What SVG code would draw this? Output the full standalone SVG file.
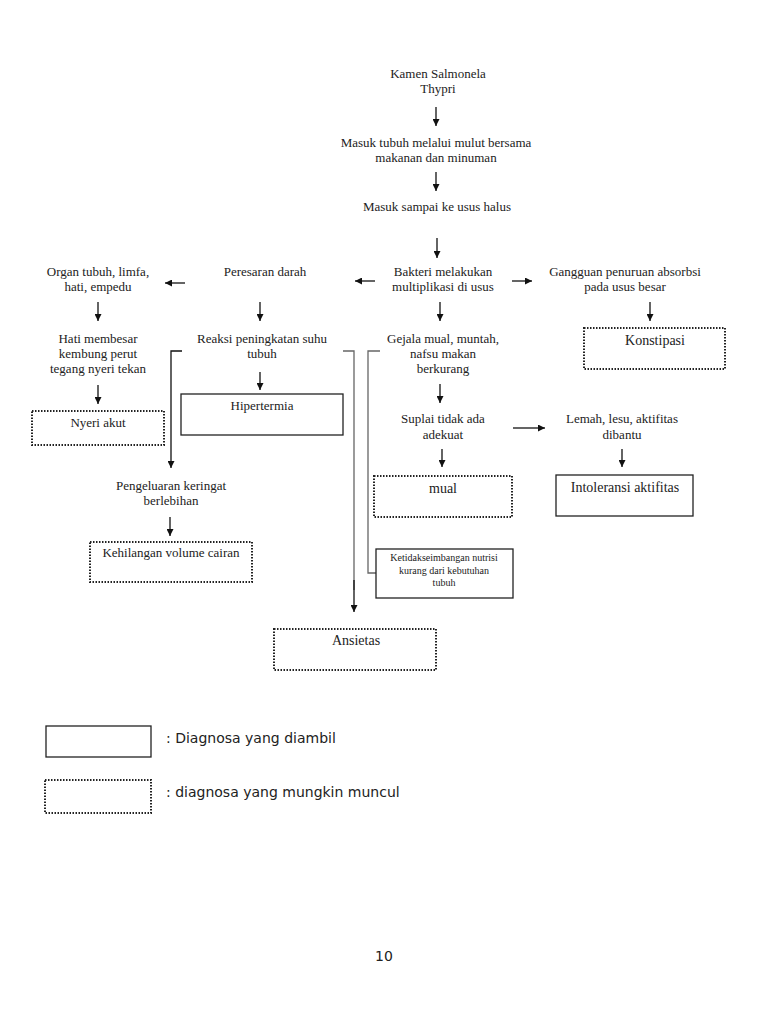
<svg xmlns="http://www.w3.org/2000/svg" width="768" height="1024" viewBox="0 0 768 1024">
<style>
.t{font-family:"Liberation Serif","Times New Roman",serif;font-size:13px;fill:#222;text-anchor:middle}
.tl{font-family:"Liberation Serif","Times New Roman",serif;font-size:14px;fill:#222;text-anchor:middle}
.ts{font-family:"Liberation Serif","Times New Roman",serif;font-size:10px;fill:#222;text-anchor:middle}
.lg{font-family:"DejaVu Sans",sans-serif;font-size:14px;fill:#222}
.solid{fill:#fff;stroke:#222;stroke-width:1.3}
.dot{fill:#fff;stroke:#222;stroke-width:2;stroke-dasharray:1.5 1.5}
.a{stroke:#111;stroke-width:1.3;fill:none;marker-end:url(#ah)}
.br{stroke:#666;stroke-width:1.3;fill:none}
</style>
<defs>
<marker id="ah" viewBox="0 0 10 10" refX="10" refY="5" markerWidth="7" markerHeight="7" markerUnits="userSpaceOnUse" orient="auto">
<path d="M0,0 L10,5 L0,10 z" fill="#111"/>
</marker>
</defs>
<rect width="768" height="1024" fill="#fff"/>

<g id="connectors">
<path class="a" d="M436,107 V126"/>
<path class="a" d="M436,172 V191"/>
<path class="a" d="M437,238 V258"/>
<path class="a" d="M185,283 H165"/>
<path class="a" d="M375,281 H355"/>
<path class="a" d="M512,281 H532"/>
<path class="a" d="M98,302 V321"/>
<path class="a" d="M260,302 V321"/>
<path class="a" d="M440,302 V321"/>
<path class="a" d="M650,302 V321"/>
<path class="a" d="M98,385 V404"/>
<path class="a" d="M260,372 V390"/>
<path class="a" d="M440,384 V403"/>
<path class="a" d="M513,428 H545"/>
<path class="a" d="M442,449 V467"/>
<path class="a" d="M622,449 V467"/>
<path class="a" d="M182,351 H171 V468"/>
<path class="a" d="M170,517 V536"/>
<path class="br" d="M343,351 H354 V590"/>
<path class="a" d="M354,580 V612"/>
<path class="br" d="M380,351 H368 V573 H376"/>
</g>

<g id="n1"><text class="t" x="438" y="78">Kamen Salmonela</text><text class="t" x="438" y="93">Thypri</text></g>
<g id="n2"><text class="t" x="436" y="147">Masuk tubuh melalui mulut bersama</text><text class="t" x="436" y="162">makanan dan minuman</text></g>
<g id="n3"><text class="t" x="437" y="211">Masuk sampai ke usus halus</text></g>
<g id="n4"><text class="t" x="98" y="276">Organ tubuh, limfa,</text><text class="t" x="98" y="291">hati, empedu</text></g>
<g id="n5"><text class="t" x="265" y="276">Peresaran darah</text></g>
<g id="n6"><text class="t" x="443" y="276">Bakteri melakukan</text><text class="t" x="443" y="291">multiplikasi di usus</text></g>
<g id="n7"><text class="t" x="625" y="276">Gangguan penuruan absorbsi</text><text class="t" x="625" y="291">pada usus besar</text></g>
<g id="n8"><text class="t" x="98" y="343">Hati membesar</text><text class="t" x="98" y="358">kembung perut</text><text class="t" x="98" y="373">tegang nyeri tekan</text></g>
<g id="n9"><text class="t" x="262" y="343">Reaksi peningkatan suhu</text><text class="t" x="262" y="358">tubuh</text></g>
<g id="n10"><text class="t" x="443" y="343">Gejala mual, muntah,</text><text class="t" x="443" y="358">nafsu makan</text><text class="t" x="443" y="373">berkurang</text></g>
<g id="n11"><rect class="dot" x="584" y="328" width="141" height="41"/><text class="tl" x="655" y="345">Konstipasi</text></g>
<g id="n12"><rect class="dot" x="32" y="411" width="132" height="34"/><text class="t" x="98" y="427">Nyeri akut</text></g>
<g id="n13"><rect class="solid" x="181" y="394" width="162" height="41"/><text class="t" x="262" y="410">Hipertermia</text></g>
<g id="n14"><text class="t" x="443" y="423">Suplai tidak ada</text><text class="t" x="443" y="439">adekuat</text></g>
<g id="n15"><text class="t" x="622" y="423">Lemah, lesu, aktifitas</text><text class="t" x="622" y="439">dibantu</text></g>
<g id="n16"><rect class="dot" x="374" y="476" width="138" height="41"/><text class="tl" x="443" y="493">mual</text></g>
<g id="n17"><rect class="solid" x="556" y="475" width="137" height="41"/><text class="tl" x="625" y="492">Intoleransi aktifitas</text></g>
<g id="n18"><text class="t" x="171" y="490">Pengeluaran keringat</text><text class="t" x="171" y="505">berlebihan</text></g>
<g id="n19"><rect class="dot" x="90" y="542" width="162" height="40"/><text class="t" x="171" y="557">Kehilangan volume cairan</text></g>
<g id="n20"><rect class="solid" x="376" y="549" width="137" height="49"/><text class="ts" x="444" y="561">Ketidakseimbangan nutrisi</text><text class="ts" x="444" y="574">kurang dari kebutuhan</text><text class="ts" x="444" y="586">tubuh</text></g>
<g id="n21"><rect class="dot" x="274" y="629" width="162" height="41"/><text class="tl" x="356" y="645">Ansietas</text></g>

<g id="legend">
<rect class="solid" x="46" y="726" width="105" height="31"/>
<text class="lg" x="166" y="743">: Diagnosa yang diambil</text>
<rect class="dot" x="45" y="780" width="106" height="33"/>
<text class="lg" x="166" y="797">: diagnosa yang mungkin muncul</text>
</g>
<text class="lg" x="384" y="961" text-anchor="middle">10</text>
</svg>
